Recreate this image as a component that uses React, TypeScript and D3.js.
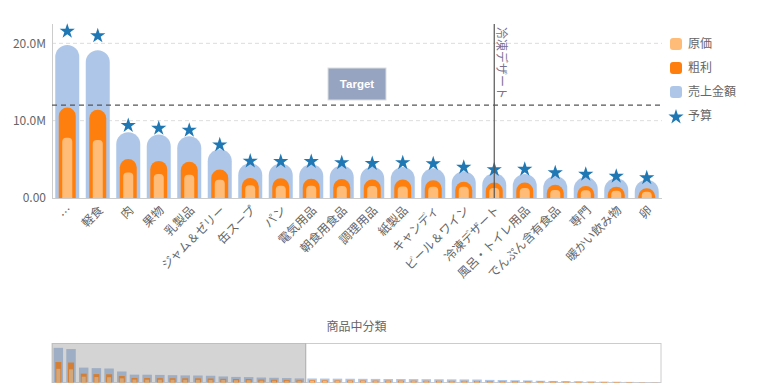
import React from "react";
import * as d3 from "d3";

// 商品中分類 — first 20 are in the zoom window, the rest only show in the overview
const categories = [
  "…", "軽食", "肉", "果物", "乳製品", "ジャム＆ゼリー", "缶スープ", "パン", "電気用品", "朝食用食品",
  "調理用品", "紙製品", "キャンディ", "ビール＆ワイン", "冷凍デザート", "風呂・トイレ用品", "でんぷん含有食品", "専門", "暖かい飲み物", "卵",
  "パスタ", "スナック", "冷凍食品", "缶詰野菜", "調味料", "乾物", "洗剤", "紙おむつ", "飲料水", "菓子パン",
  "米", "麺類", "漬物", "魚介", "香辛料", "ナッツ", "シリアル", "ジュース", "酒類", "衛生用品",
  "文房具", "電池", "ペット用品", "園芸用品", "化粧品", "医薬品", "台所用品", "雑貨",
];

// values in millions
const sales = [
  19.8, 19.1, 8.5, 8.2, 8.0, 6.3, 4.5, 4.45, 4.35, 4.2,
  4.05, 4.0, 3.85, 3.45, 3.2, 3.1, 2.85, 2.7, 2.55, 2.35,
  2.3, 2.25, 2.2, 2.15, 2.1, 2.05, 2.0, 2.0, 1.95, 1.9,
  1.85, 1.8, 1.75, 1.7, 1.5, 1.4, 1.3, 1.2, 1.0, 0.9,
  0.8, 0.7, 0.6, 0.5, 0.45, 0.35, 0.2, 0.1,
];
const profit = [
  11.7, 11.4, 5.05, 4.8, 4.7, 3.7, 2.6, 2.55, 2.5, 2.45,
  2.4, 2.4, 2.3, 2.1, 2.0, 2.0, 1.7, 1.55, 1.45, 1.25,
  1.25, 1.2, 1.2, 1.15, 1.15, 1.1, 1.1, 1.1, 1.05, 1.0,
  1.0, 0.95, 0.95, 0.9, 0.8, 0.75, 0.7, 0.65, 0.55, 0.5,
  0.45, 0.4, 0.35, 0.3, 0.25, 0.2, 0.1, 0.05,
];
const cost = [
  7.8, 7.5, 3.3, 3.1, 3.0, 2.35, 1.65, 1.6, 1.6, 1.55,
  1.55, 1.5, 1.45, 1.45, 1.3, 1.3, 1.05, 1.0, 0.95, 0.8,
  0.8, 0.8, 0.75, 0.75, 0.75, 0.7, 0.7, 0.7, 0.7, 0.65,
  0.65, 0.6, 0.6, 0.6, 0.5, 0.5, 0.45, 0.4, 0.35, 0.3,
  0.3, 0.25, 0.2, 0.2, 0.15, 0.1, 0.07, 0.03,
];
const budget = [
  21.7, 21.1, 9.5, 9.15, 8.9, 7.0, 4.9, 4.85, 4.85, 4.7,
  4.6, 4.7, 4.55, 4.1, 3.8, 3.85, 3.4, 3.2, 2.95, 2.75,
  2.6, 2.55, 2.5, 2.45, 2.4, 2.35, 2.3, 2.3, 2.2, 2.15,
  2.1, 2.05, 2.0, 1.95, 1.7, 1.6, 1.5, 1.35, 1.15, 1.0,
  0.9, 0.8, 0.7, 0.6, 0.5, 0.4, 0.25, 0.12,
];

const seriesNames = ["原価", "粗利", "売上金額", "予算"];
const seriesColors = ["#ffbb78", "#ff7f0e", "#aec7e8", "#1f77b4"];
const yTicks = [0, 10, 20];
const targetValue = 12;
const markedCategory = "冷凍デザート";
const windowSize = 20;
const overviewTitle = "商品中分類";

const FONT = '"Noto Sans CJK JP", "Noto Sans", sans-serif';

function roundTop(x: number, y: number, w: number, h: number, r: number) {
  r = Math.min(r, w / 2, h);
  return `M${x},${y + h}V${y + r}A${r},${r} 0 0 1 ${x + r},${y}H${x + w - r}A${r},${r} 0 0 1 ${x + w},${y + r}V${y + h}Z`;
}

export default function App() {
  const W = 759, H = 386;
  const left = 52, right = 662, top = 24, bottom = 198;

  const shown = categories.slice(0, windowSize);
  const x = d3.scaleBand<string>().domain(shown).range([left, right]);
  const y = d3.scaleLinear().domain([0, 22.5]).range([bottom, top]);
  const bw = x.bandwidth();

  const star = d3.symbol(d3.symbolStar, 72)() as string;

  // overview
  const oLeft = 52, oRight = 661, oTop = 343.5, oBottom = 382.5;
  const xo = d3.scaleBand<string>().domain(categories).range([oLeft, oRight]);
  const yo = d3.scaleLinear().domain([0, d3.max(budget) as number]).range([oBottom, oTop + 1]);
  const selEnd = (xo(categories[windowSize - 1]) as number) + xo.bandwidth();

  const markX = (x(markedCategory) as number) + bw / 2;

  return (
    <svg width={W} height={H} style={{ position: "absolute", left: 0, top: 0 }} fontFamily={FONT}>
      {/* grid */}
      {yTicks.filter(t => t > 0).map(t => (
        <line key={t} x1={left} x2={right} y1={y(t)} y2={y(t)} stroke="#ddd" strokeDasharray="4,3" />
      ))}
      {/* axes */}
      <line x1={left + 0.5} x2={left + 0.5} y1={top} y2={bottom} stroke="#ccc" />
      <line x1={left} x2={right} y1={bottom + 0.5} y2={bottom + 0.5} stroke="#ccc" />
      {yTicks.map(t => (
        <text key={t} x={46} y={y(t)} dy="0.35em" textAnchor="end" fontSize={12} fill="#666">
          {t === 0 ? "0.00" : t.toFixed(1) + "M"}
        </text>
      ))}

      {/* bars */}
      {shown.map((c, i) => {
        const cx = (x(c) as number) + bw / 2;
        return (
          <g key={c}>
            <path d={roundTop(cx - 12, y(sales[i]), 24, bottom - y(sales[i]), 12)} fill={seriesColors[2]} />
            <path d={roundTop(cx - 8.5, y(profit[i]), 17, bottom - y(profit[i]), 8.5)} fill={seriesColors[1]} />
            <path d={roundTop(cx - 5, y(cost[i]), 10, bottom - y(cost[i]), 4)} fill={seriesColors[0]} />
            <path d={star} transform={`translate(${cx},${y(budget[i]) + 1})`} fill={seriesColors[3]} />
            <text transform={`translate(${cx + 3},${bottom + 10}) rotate(-45)`} dy="0.35em" textAnchor="end" fontSize={12} fill="#666">
              {c}
            </text>
          </g>
        );
      })}

      {/* target line */}
      <line x1={left} x2={right} y1={y(targetValue)} y2={y(targetValue)} stroke="#555" strokeWidth={1.2} strokeDasharray="5,4" />
      <rect x={(left + right) / 2 - 29} y={68} width={58} height={32} fill="#97a4c1" stroke="#ddd" />
      <text x={(left + right) / 2} y={84} dy="0.35em" textAnchor="middle" fontSize={11.5} fontWeight="bold" fill="#fff" fontFamily='"Liberation Sans", Arial, sans-serif'>
        Target
      </text>

      {/* marked category */}
      <line x1={markX} x2={markX} y1={top} y2={bottom} stroke="#555" strokeWidth={1.2} />
      <text transform={`translate(${markX + 2},${top + 3}) rotate(90)`} dy="-0.1em" fontSize={12} fill="#7a7090">
        {markedCategory}
      </text>

      {/* legend */}
      {seriesNames.map((n, i) => {
        const cy = 44 + i * 24;
        return (
          <g key={n}>
            {i < 3 ? (
              <rect x={670} y={cy - 6} width={12} height={12} rx={3} fill={seriesColors[i]} />
            ) : (
              <path d={star} transform={`translate(676,${cy + 1})`} fill={seriesColors[i]} />
            )}
            <text x={688} y={cy} dy="0.35em" fontSize={12} fill="#666">{n}</text>
          </g>
        );
      })}

      {/* overview */}
      <text x={(oLeft + oRight) / 2} y={327} dy="0.35em" textAnchor="middle" fontSize={12} fill="#666">
        {overviewTitle}
      </text>
      <rect x={oLeft} y={oTop} width={oRight - oLeft} height={oBottom - oTop} fill="none" stroke="#ccc" />
      {categories.map((c, i) => {
        const cx = (xo(c) as number) + xo.bandwidth() / 2;
        return (
          <g key={c}>
            <rect x={cx - 4.75} y={yo(sales[i])} width={9.5} height={oBottom - yo(sales[i])} fill={seriesColors[2]} />
            <rect x={cx - 3} y={yo(profit[i])} width={6} height={oBottom - yo(profit[i])} fill={seriesColors[1]} />
            <rect x={cx - 2} y={yo(cost[i])} width={4} height={oBottom - yo(cost[i])} fill={seriesColors[0]} />
          </g>
        );
      })}
      <rect x={oLeft} y={oTop} width={selEnd - oLeft} height={oBottom - oTop} fill="#808080" fillOpacity={0.34} />
      <line x1={selEnd} x2={selEnd} y1={oTop} y2={oBottom} stroke="#aaa" />
    </svg>
  );
}
